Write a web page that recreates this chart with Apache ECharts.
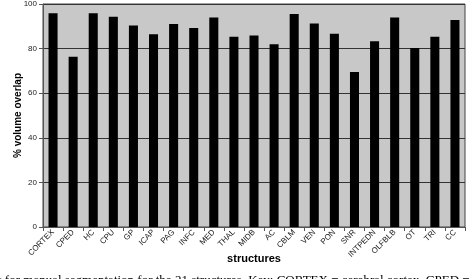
<!DOCTYPE html>
<html lang="en">
<head>
    <meta charset="UTF-8">
    <script src="https://cdn.jsdelivr.net/npm/echarts@6/dist/echarts.min.js"></script>
    <title>volume overlap</title>
    <style>
        html, body { margin: 0; padding: 0; background: #fff; overflow: hidden; }
        #wrap { position: relative; width: 474px; height: 279px; overflow: hidden; }
        #caption {
            position: absolute; left: -2px; top: 272px; white-space: nowrap;
            font: 13px "Liberation Serif", serif; color: #000; line-height: 15px;
        }
    </style>
</head>
<body>
    <div id="wrap">
        <div id="main" style="width:474px;height:279px"></div>
        <div id="caption"></div>
    </div>
    <script>
        // structures and % volume overlap
        var structures = ['CORTEX', 'CPED', 'HC', 'CPU', 'GP', 'ICAP', 'PAG', 'INFC', 'MED', 'THAL',
            'MIDB', 'AC', 'CBLM', 'VEN', 'PON', 'SNR', 'INTPEDN', 'OLFBLB', 'OT', 'TRI', 'CC'];
        var overlap = [95.8, 76.4, 95.8, 94.3, 90.4, 86.4, 91.0, 89.2, 94.0, 85.3,
            85.9, 82.0, 95.5, 91.2, 86.7, 69.5, 83.3, 94.0, 80.3, 85.3, 92.8];
        var yTicks = [0, 20, 40, 60, 80, 100];

        // caption of the paper, cut off by the bottom edge
        var caption = 't for manual segmentation for the 21 structures. Key: CORTEX = cerebral cortex, CPED = cerebral peduncle, HC = hippocampus';
        document.getElementById("caption").textContent = caption;

        var main = document.getElementById("main");
        var echart = echarts.init(main);
        var option = {
            animation: false,
            textStyle: { fontFamily: 'Liberation Sans, Arial, sans-serif' },
            grid: {
                left: 43,
                right: 9,
                top: 4,
                bottom: 52,
                outerBoundsMode: 'none',
                show: true,
                backgroundColor: '#c8c8c8',
                borderColor: '#444',
                borderWidth: 1
            },
            xAxis: {
                type: 'category',
                data: structures,
                name: 'structures',
                nameLocation: 'middle',
                nameGap: 26,
                nameMoveOverlap: false,
                nameTextStyle: { fontSize: 11, fontWeight: 'bold', color: '#000' },
                axisLine: { lineStyle: { color: '#555', width: 1 } },
                axisTick: { show: true, length: 4, lineStyle: { color: '#555' } },
                axisLabel: { rotate: 45, fontSize: 8, color: '#222', margin: 4 }
            },
            yAxis: {
                type: 'value',
                min: yTicks[0],
                max: yTicks[yTicks.length - 1],
                interval: 20,
                name: '% volume overlap',
                nameLocation: 'middle',
                nameGap: 20,
                nameMoveOverlap: false,
                nameTextStyle: { fontSize: 10, fontWeight: 'bold', color: '#000' },
                axisLine: { show: true, lineStyle: { color: '#555', width: 1 } },
                axisTick: { show: true, length: 4, lineStyle: { color: '#555' } },
                axisLabel: { fontSize: 8, color: '#222', margin: 6 },
                splitLine: { lineStyle: { color: '#333', width: 1 } }
            },
            series: [{
                name: 'overlap',
                type: 'bar',
                data: overlap,
                barWidth: '45%',
                itemStyle: { color: '#000' }
            }]
        };
        echart.setOption(option);
    </script>
</body>
</html>
